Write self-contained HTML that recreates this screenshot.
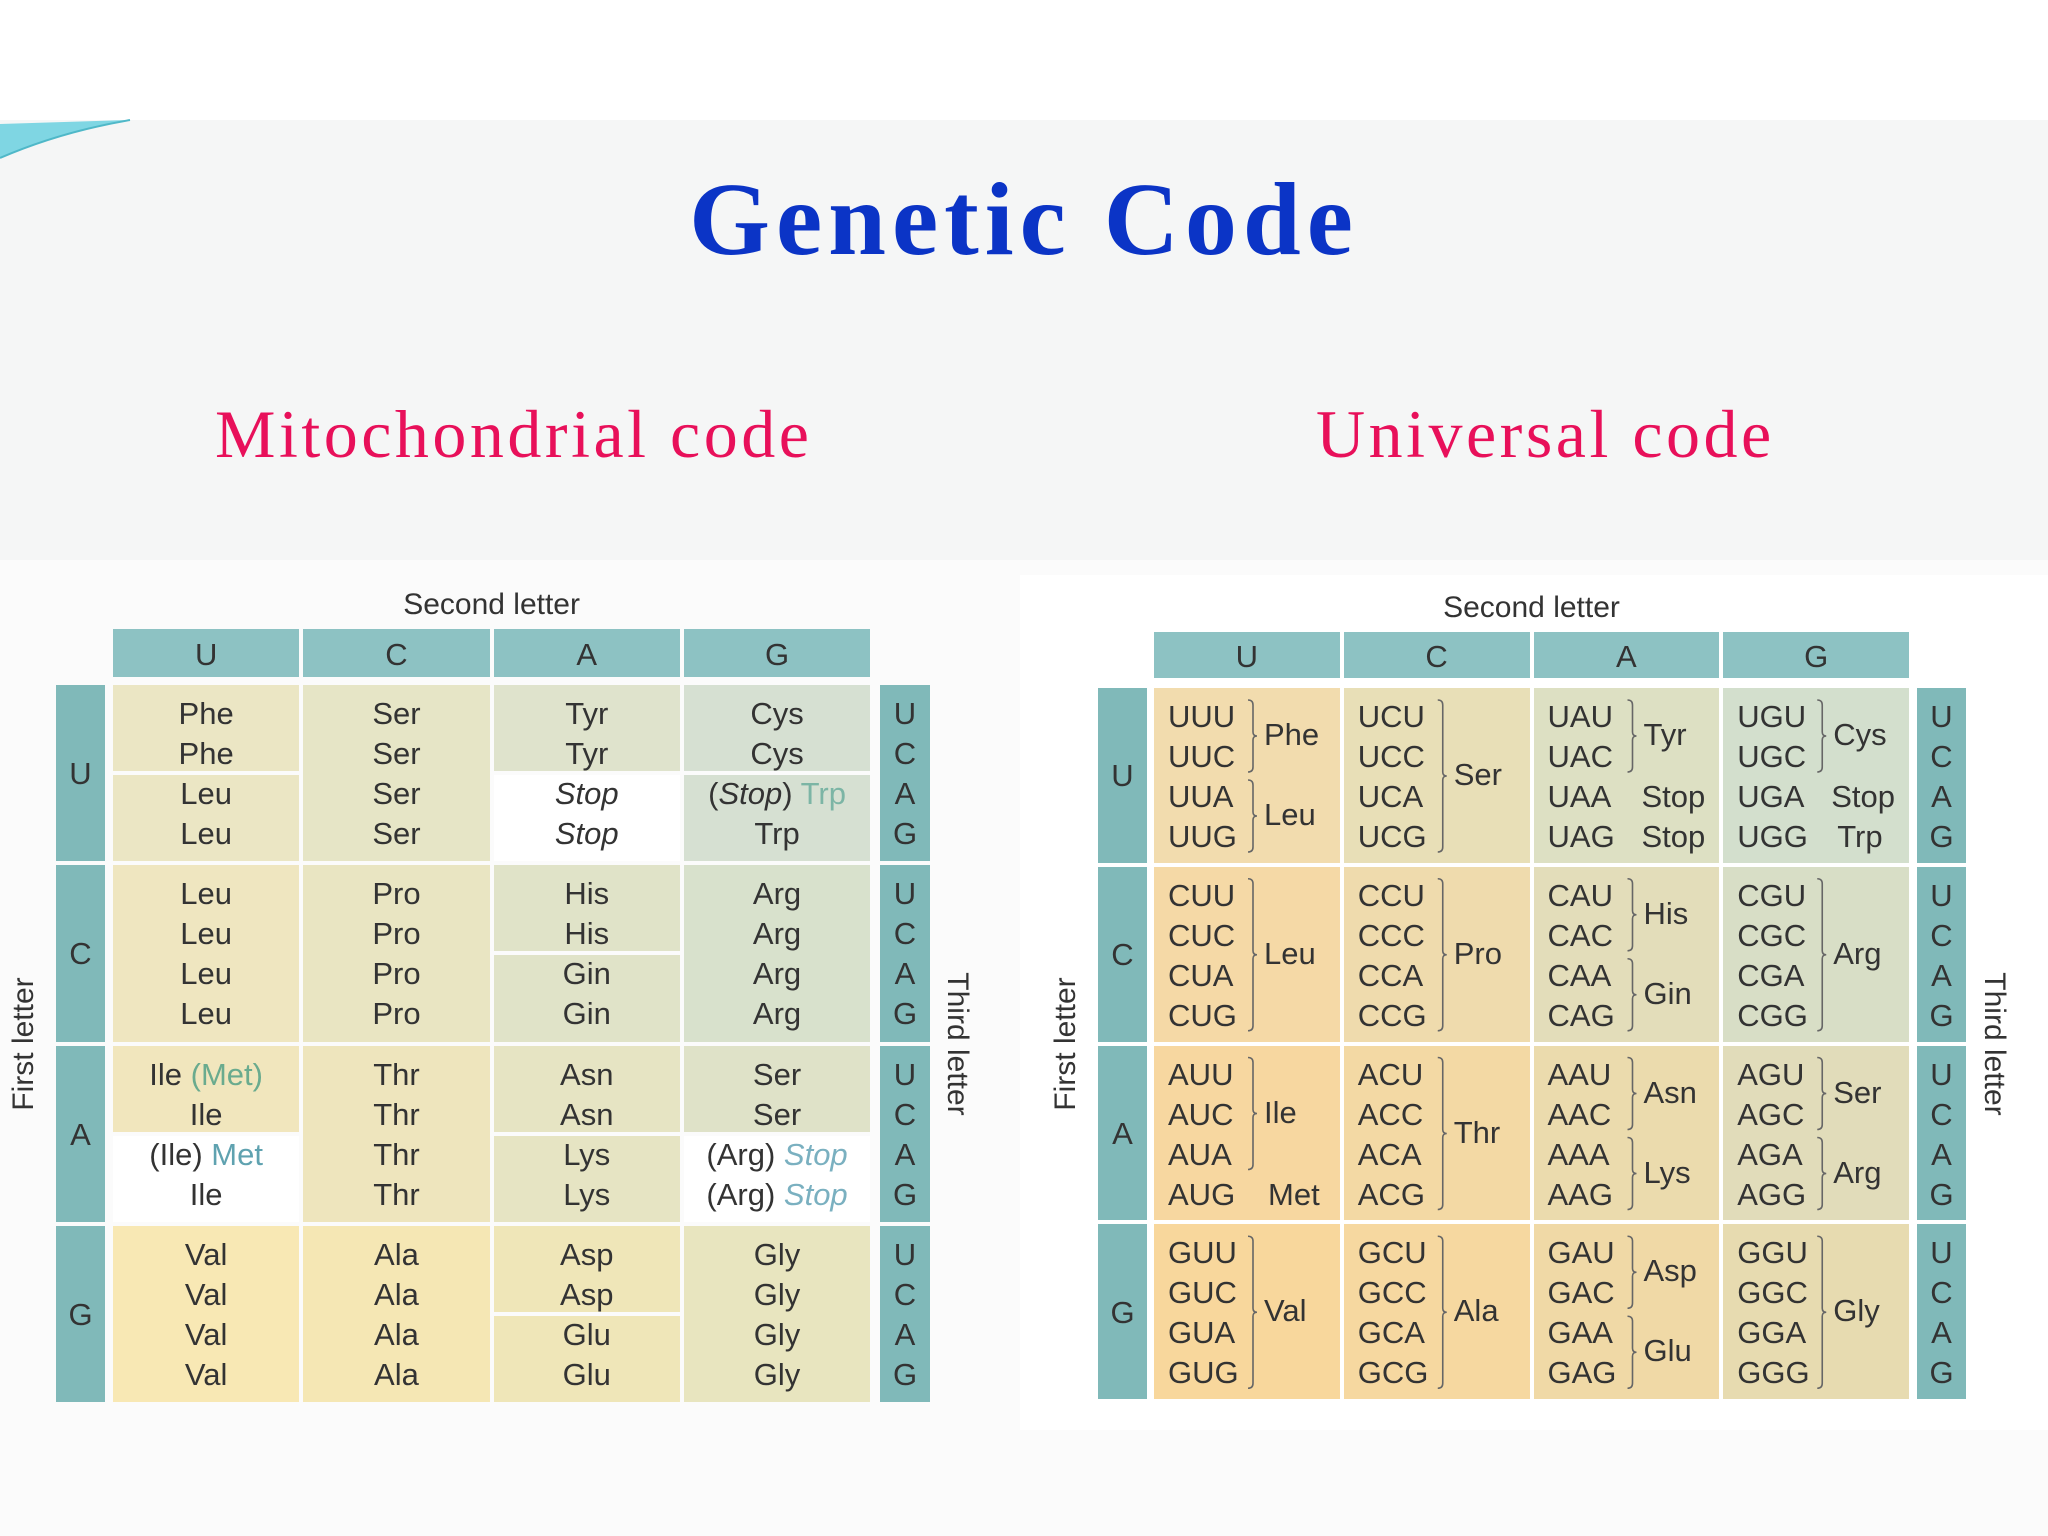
<!DOCTYPE html>
<html><head><meta charset="utf-8">
<style>
html,body{margin:0;padding:0;}
body{width:2048px;height:1536px;position:relative;overflow:hidden;background:#fbfbfb;font-family:"Liberation Sans",sans-serif;color:#333;}
.abs{position:absolute;}
.band{left:0;top:120px;width:2048px;height:440px;background:#f5f6f6;}
.title{left:0;width:2048px;top:168px;text-align:center;font-family:"Liberation Serif",serif;font-weight:bold;font-size:104px;letter-spacing:6px;color:#0b34c6;line-height:1;}
.sub{font-family:"Liberation Serif",serif;font-size:68px;letter-spacing:3.5px;color:#e8105a;line-height:1;top:400px;}
.cell{position:absolute;box-sizing:border-box;}
.txt{position:absolute;font-size:31px;line-height:1;white-space:nowrap;color:#333;}
.hdr{background:#8dc2c3;}
.side{background:#80b9b9;}
.lbl{position:absolute;font-size:30px;color:#333;white-space:nowrap;line-height:1;}
</style></head>
<body>
<div class="abs band"></div>
<div class="abs" style="left:0;top:0;width:2048px;height:120px;background:#fff"></div>
<svg class="abs" style="left:0;top:118px" width="140" height="45"><path d="M0,6 L130,2 Q60,14 0,40 Z" fill="#7fd6e3"/><path d="M0,40 Q60,14 130,2" stroke="#4fb8c8" stroke-width="2" fill="none"/></svg>
<div class="abs title">Genetic Code</div>
<div class="abs sub" style="left:215px">Mitochondrial code</div>
<div class="abs sub" style="left:1316px">Universal code</div>
<div class="abs" style="left:1020px;top:575px;width:1028px;height:855px;background:#fff"></div>
<div id="root"></div>
<svg id="braces" class="abs" style="left:0;top:0" width="2048" height="1536"></svg>
<script>
const bases = ["U","C","A","G"];
const mitoAA = [
 [["Phe","Phe","Leu","Leu"],["Ser","Ser","Ser","Ser"],["Tyr","Tyr","<i>Stop</i>","<i>Stop</i>"],["Cys","Cys","(<i>Stop</i>) <span style='color:#7cb5a5'>Trp</span>","Trp"]],
 [["Leu","Leu","Leu","Leu"],["Pro","Pro","Pro","Pro"],["His","His","Gin","Gin"],["Arg","Arg","Arg","Arg"]],
 [["Ile <span style='color:#6aab8e'>(Met)</span>","Ile","(Ile) <span style='color:#5fa2b0'>Met</span>","Ile"],["Thr","Thr","Thr","Thr"],["Asn","Asn","Lys","Lys"],["Ser","Ser","(Arg) <i style='color:#7ab0c0'>Stop</i>","(Arg) <i style='color:#7ab0c0'>Stop</i>"]],
 [["Val","Val","Val","Val"],["Ala","Ala","Ala","Ala"],["Asp","Asp","Glu","Glu"],["Gly","Gly","Gly","Gly"]]
];
const mitoSplit = [[1,0,1,1],[0,0,1,0],[1,0,1,1],[0,0,1,0]];
const mitoWhite = [[0,0,1,0],[0,0,0,0],[1,0,0,1],[0,0,0,0]];
const uniGroups = [
 [[[0,1,"Phe"],[2,3,"Leu"]],[[0,3,"Ser"]],[[0,1,"Tyr"],[2,2,"Stop"],[3,3,"Stop"]],[[0,1,"Cys"],[2,2,"Stop"],[3,3,"Trp"]]],
 [[[0,3,"Leu"]],[[0,3,"Pro"]],[[0,1,"His"],[2,3,"Gin"]],[[0,3,"Arg"]]],
 [[[0,2,"Ile"],[3,3,"Met"]],[[0,3,"Thr"]],[[0,1,"Asn"],[2,3,"Lys"]],[[0,1,"Ser"],[2,3,"Arg"]]],
 [[[0,3,"Val"]],[[0,3,"Ala"]],[[0,1,"Asp"],[2,3,"Glu"]],[[0,3,"Gly"]]]
];
const mitoColors = [["#ebe6c4","#e6e5c6","#dfe3cc","#d6e0d2"],["#efe6c0","#e9e5c2","#e0e3c8","#d8e1cc"],["#f1e6bd","#eee5bd","#e6e4c3","#dfe2c8"],["#f8e8b4","#f5e7b4","#efe6b8","#e8e5bf"]];
const uniColors = [["#f2dcae","#e8dfb7","#dde0c3","#d3dfcd"],["#f5d9a6","#efdbad","#e3ddba","#d8dec6"],["#f7d7a0","#f3d9a4","#ebdbad","#e1dcba"],["#f8d79c","#f6d8a0","#f0d9a6","#e7dbb0"]];

const root = document.getElementById('root');
const svg = document.getElementById('braces');
function div(cls, x, y, w, h, bg, name){
  const d = document.createElement('div');
  d.className = cls;
  d.style.left = x+'px'; d.style.top = y+'px';
  if(w!=null) d.style.width = w+'px';
  if(h!=null) d.style.height = h+'px';
  if(bg) d.style.background = bg;
  
  
  root.appendChild(d);
  return d;
}
function text(x, y, html, name, center, size){
  const t = document.createElement('div');
  t.className = 'txt';
  t.innerHTML = html;
  t.style.top = (y - 15)+'px';
  if(size) t.style.fontSize = size+'px';
  if(center){ t.style.left = (x-150)+'px'; t.style.width='300px'; t.style.textAlign='center'; }
  else t.style.left = x+'px';
  
  
  root.appendChild(t);
  return t;
}
function frame(T){
  text((T.x0+T.x0+4*T.cw)/2, T.hy-24, "Second letter", "second-letter-label", true, 30);
  for(let c=0;c<4;c++){
    div('cell hdr', T.x0+c*T.cw+2, T.hy, T.cw-4, T.hh, null, 'header-'+bases[c]);
    text(T.x0+c*T.cw+T.cw/2, T.hy+T.hh/2+1, bases[c], 'header-letter-'+bases[c], true);
  }
  for(let b=0;b<4;b++){
    const by = T.by+b*T.bh;
    div('cell side', T.fx, by+2, T.fw, T.bh-4, null, 'first-letter-'+bases[b]);
    text(T.fx+T.fw/2, by+T.bh/2, bases[b], 'first-letter-text-'+bases[b], true);
    div('cell side', T.tx, by+2, T.tw, T.bh-4, null, 'third-letter-block-'+bases[b]);
    for(let r=0;r<4;r++) text(T.tx+T.tw/2, by+30+r*40, bases[r], 'third-letter-'+bases[b]+bases[r], true);
  }
  const fl = document.createElement('div');
  fl.className='lbl'; fl.textContent='First letter';
  fl.style.left=(T.flx-90)+'px'; fl.style.top=(T.by+2*T.bh-15)+'px'; fl.style.width='180px'; fl.style.textAlign='center';
  fl.style.transform='rotate(-90deg)';
  
  
  root.appendChild(fl);
  const tl = document.createElement('div');
  tl.className='lbl'; tl.textContent='Third letter';
  tl.style.left=(T.tlx-90)+'px'; tl.style.top=(T.by+2*T.bh-15)+'px'; tl.style.width='180px'; tl.style.textAlign='center';
  tl.style.transform='rotate(90deg)';
  
  
  root.appendChild(tl);
}
const L = {x0:111, cw:190.3, hy:629, hh:48, by:683, bh:180.3, fx:56, fw:49, tx:880, tw:50, flx:24, tlx:957};
const R = {x0:1152, cw:189.75, hy:632, hh:46, by:686, bh:178.75, fx:1098, fw:49, tx:1917, tw:49, flx:1066, tlx:1994};
frame(L); frame(R);
function rowY(T,b,r){ return T.by+b*T.bh+30+r*40; }
for(let b=0;b<4;b++) for(let c=0;c<4;c++){
  const x = L.x0+c*L.cw+2, by = L.by+b*L.bh+2, w = L.cw-4, h = L.bh-4;
  if(mitoSplit[b][c]){
    div('cell', x, by, w, h/2-2, mitoColors[b][c], 'mito-cell-'+bases[b]+bases[c]+'-top');
    div('cell', x, by+h/2+2, w, h/2-2, mitoWhite[b][c]?'#ffffff':mitoColors[b][c], 'mito-cell-'+bases[b]+bases[c]+'-bottom');
  } else div('cell', x, by, w, h, mitoColors[b][c], 'mito-cell-'+bases[b]+bases[c]);
  for(let r=0;r<4;r++) text(L.x0+c*L.cw+L.cw/2, rowY(L,b,r), mitoAA[b][c][r], 'mito-aa-'+bases[b]+bases[c]+bases[r], true);
}
const NS='http://www.w3.org/2000/svg';
for(let b=0;b<4;b++) for(let c=0;c<4;c++){
  const x0 = R.x0+c*R.cw;
  div('cell', x0+2, R.by+b*R.bh+2, R.cw-4, R.bh-4, uniColors[b][c], 'uni-cell-'+bases[b]+bases[c]);
  for(let r=0;r<4;r++) text(x0+16, rowY(R,b,r), bases[b]+bases[c]+bases[r], 'codon-'+bases[b]+bases[c]+bases[r], false);
  for(const g of uniGroups[b][c]){
    const y1 = rowY(R,b,g[0])-16, y2 = rowY(R,b,g[1])+16, ym=(y1+y2)/2;
    if(g[1]>g[0]){
      const bx = x0+96;
      const p = document.createElementNS(NS,'path');
      p.setAttribute('d',`M${bx},${y1} q5,0 5,5 L${bx+5},${ym-4} q0,4 4,4 q-4,0 -4,4 L${bx+5},${y2-5} q0,5 -5,5`);
      p.setAttribute('stroke','#666'); p.setAttribute('stroke-width','1.6'); p.setAttribute('fill','none');
      
      
      svg.appendChild(p);
      text(x0+112, ym-2, g[2], 'aa-'+g[2].toLowerCase(), false);
    } else {
      text(x0+(g[2]=="Stop"?110:116), ym, g[2], 'aa-'+g[2].toLowerCase(), false);
    }
  }
}
</script>
</body></html>
